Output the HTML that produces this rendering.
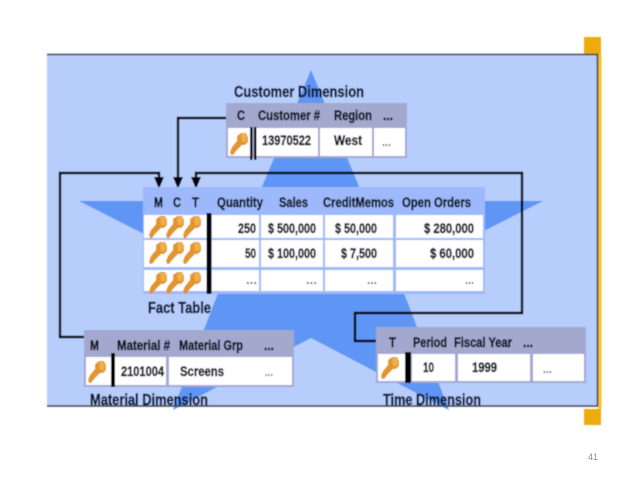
<!DOCTYPE html>
<html><head><meta charset="utf-8"><style>
html,body{margin:0;padding:0;background:#fff;width:638px;height:478px;overflow:hidden}
svg{display:block}
text{font-family:"Liberation Sans",sans-serif;font-weight:bold;font-size:13.5px;fill:#0e1420;stroke:#0e1420;stroke-width:.45px}
.l{font-size:15.5px;fill:#0c1a38;stroke:#0c1a38}
.d{fill:#555;stroke:none;font-size:12px}
</style></head><body>
<svg width="638" height="478" viewBox="0 0 638 478" xmlns="http://www.w3.org/2000/svg">
<defs>
<g id="k"><path d="M0 19 L2 14 L7 8 L7 3 L11 0 L16 0 L18 4 L18 9 L15 12 L12 12 L7 17 L3 22 L1 22Z" fill="#e2952a"/><path d="M11 1 L16 1 L17 5 L16 9 L12 9Z" fill="#eeb04c"/></g>
<filter id="b" x="-2%" y="-2%" width="104%" height="104%"><feGaussianBlur stdDeviation="0.4"/></filter>
</defs>
<g filter="url(#b)">
<rect x="584" y="37" width="17" height="17" fill="#edab09"/>
<rect x="598" y="54" width="3.500" height="355" fill="#f6c22e"/>
<rect x="584" y="409" width="17" height="16" fill="#edab09"/>
<rect x="47" y="54" width="551" height="352" fill="#b7cdfb"/>
<path d="M311 70 L365 201 L543 201 L397 275 L449 410 L311 338 L173 410 L225 275 L79 201 L256 201Z" fill="#5f95f5"/>
<path d="M47 54.500H597.500V406H47" fill="none" stroke="#3a3f4c" stroke-width="1.600"/>
<g fill="none" stroke="#05060c" stroke-width="2.400">
<path d="M226 118H178V180"/>
<path d="M159 180V173H60V337H84"/>
<path d="M196 180V173H522V313H355V341H376"/>
</g>
<g fill="#05060c"><path d="M154 177H164L159 189Z"/><path d="M173 177H183L178 189Z"/><path d="M191 177H201L196 189Z"/></g>

<rect x="226" y="103" width="181" height="55" fill="#a3a8cf"/>
<g fill="#fff"><rect x="228" y="128" width="22" height="28"/><rect x="256" y="128" width="62" height="28"/><rect x="320" y="128" width="52" height="28"/><rect x="374" y="128" width="31" height="28"/></g>
<rect x="250" y="127" width="2.500" height="33" fill="#000"/><rect x="254" y="127" width="2.500" height="33" fill="#000"/>
<use href="#k" x="230" y="133"/>

<rect x="143" y="187" width="342" height="107" fill="#9db9fb"/>
<g fill="#fff">
<rect x="144" y="215" width="63" height="23"/><rect x="212" y="215" width="47" height="23"/><rect x="261" y="215" width="62" height="23"/><rect x="325" y="215" width="68" height="23"/><rect x="396" y="215" width="87" height="23"/>
<rect x="144" y="240" width="63" height="27"/><rect x="212" y="240" width="47" height="27"/><rect x="261" y="240" width="62" height="27"/><rect x="325" y="240" width="68" height="27"/><rect x="396" y="240" width="87" height="27"/>
<rect x="144" y="270" width="63" height="21"/><rect x="212" y="270" width="47" height="21"/><rect x="261" y="270" width="62" height="21"/><rect x="325" y="270" width="68" height="21"/><rect x="396" y="270" width="87" height="21"/>
</g>
<rect x="206.500" y="213" width="5" height="81" fill="#000"/>
<use href="#k" x="149" y="216"/><use href="#k" x="166" y="216"/><use href="#k" x="183" y="216"/>
<use href="#k" x="149" y="242"/><use href="#k" x="166" y="242"/><use href="#k" x="183" y="242"/>
<use href="#k" x="149" y="272"/><use href="#k" x="166" y="272"/><use href="#k" x="183" y="272"/>

<rect x="84" y="330" width="210" height="57" fill="#a3a8cf"/>
<g fill="#fff"><rect x="86" y="357" width="25" height="28"/><rect x="115" y="357" width="51" height="28"/><rect x="169" y="357" width="123" height="28"/></g>
<rect x="111" y="353" width="4" height="34" fill="#000"/>
<use href="#k" x="88" y="361"/>

<rect x="376" y="327" width="210" height="56" fill="#a3a8cf"/>
<g fill="#fff"><rect x="378" y="354" width="27" height="27"/><rect x="412" y="354" width="43" height="27"/><rect x="458" y="354" width="72" height="27"/><rect x="533" y="354" width="51" height="27"/></g>
<rect x="405" y="352" width="6" height="31" fill="#000"/>
<use href="#k" x="381" y="357"/>

<text class="l" x="234" y="97" textLength="130" lengthAdjust="spacingAndGlyphs">Customer Dimension</text>
<text x="237" y="120" textLength="8" lengthAdjust="spacingAndGlyphs">C</text>
<text x="258" y="120" textLength="62" lengthAdjust="spacingAndGlyphs">Customer #</text>
<text x="334" y="120" textLength="38" lengthAdjust="spacingAndGlyphs">Region</text>
<text x="383" y="120" textLength="10" lengthAdjust="spacingAndGlyphs">...</text>
<text x="262" y="145" textLength="49" lengthAdjust="spacingAndGlyphs">13970522</text>
<text x="334" y="145" textLength="28" lengthAdjust="spacingAndGlyphs">West</text>
<text class="d" x="382" y="146" textLength="9" lengthAdjust="spacingAndGlyphs">...</text>

<text x="154" y="207" textLength="9" lengthAdjust="spacingAndGlyphs">M</text>
<text x="173" y="207" textLength="8" lengthAdjust="spacingAndGlyphs">C</text>
<text x="192" y="207" textLength="7" lengthAdjust="spacingAndGlyphs">T</text>
<text x="217" y="207" textLength="46" lengthAdjust="spacingAndGlyphs">Quantity</text>
<text x="279" y="207" textLength="29" lengthAdjust="spacingAndGlyphs">Sales</text>
<text x="323" y="207" textLength="71" lengthAdjust="spacingAndGlyphs">CreditMemos</text>
<text x="402" y="207" textLength="69" lengthAdjust="spacingAndGlyphs">Open Orders</text>

<text x="238" y="233" textLength="18" lengthAdjust="spacingAndGlyphs">250</text>
<text x="268" y="233" textLength="48" lengthAdjust="spacingAndGlyphs">$ 500,000</text>
<text x="335" y="233" textLength="42" lengthAdjust="spacingAndGlyphs">$ 50,000</text>
<text x="424" y="233" textLength="50" lengthAdjust="spacingAndGlyphs">$ 280,000</text>
<text x="245" y="258" textLength="11" lengthAdjust="spacingAndGlyphs">50</text>
<text x="268" y="258" textLength="48" lengthAdjust="spacingAndGlyphs">$ 100,000</text>
<text x="341" y="258" textLength="36" lengthAdjust="spacingAndGlyphs">$ 7,500</text>
<text x="430" y="258" textLength="44" lengthAdjust="spacingAndGlyphs">$ 60,000</text>
<text class="d" x="246" y="284" textLength="11" lengthAdjust="spacingAndGlyphs">...</text>
<text class="d" x="306" y="284" textLength="11" lengthAdjust="spacingAndGlyphs">...</text>
<text class="d" x="367" y="284" textLength="10" lengthAdjust="spacingAndGlyphs">...</text>
<text class="d" x="465" y="284" textLength="9" lengthAdjust="spacingAndGlyphs">...</text>
<text class="l" x="148" y="313" textLength="63" lengthAdjust="spacingAndGlyphs">Fact Table</text>

<text x="90" y="350" textLength="9" lengthAdjust="spacingAndGlyphs">M</text>
<text x="117" y="350" textLength="53" lengthAdjust="spacingAndGlyphs">Material #</text>
<text x="179" y="350" textLength="64" lengthAdjust="spacingAndGlyphs">Material Grp</text>
<text x="264" y="350" textLength="10" lengthAdjust="spacingAndGlyphs">...</text>
<text x="121" y="376" textLength="43" lengthAdjust="spacingAndGlyphs">2101004</text>
<text x="180" y="376" textLength="44" lengthAdjust="spacingAndGlyphs">Screens</text>
<text class="d" x="265" y="376" textLength="8" lengthAdjust="spacingAndGlyphs">...</text>
<text class="l" x="90" y="405" textLength="118" lengthAdjust="spacingAndGlyphs">Material Dimension</text>

<text x="389" y="347" textLength="7" lengthAdjust="spacingAndGlyphs">T</text>
<text x="413" y="347" textLength="34" lengthAdjust="spacingAndGlyphs">Period</text>
<text x="454" y="347" textLength="58" lengthAdjust="spacingAndGlyphs">Fiscal Year</text>
<text x="523" y="347" textLength="10" lengthAdjust="spacingAndGlyphs">...</text>
<text x="423" y="372" textLength="11" lengthAdjust="spacingAndGlyphs">10</text>
<text x="472" y="372" textLength="25" lengthAdjust="spacingAndGlyphs">1999</text>
<text class="d" x="543" y="373" textLength="9" lengthAdjust="spacingAndGlyphs">...</text>
<text class="l" x="383" y="405" textLength="98" lengthAdjust="spacingAndGlyphs">Time Dimension</text>
</g>
<text x="588" y="460" style="font-size:9px;font-weight:normal;fill:#8a8a8a;stroke:none">41</text>
</svg>
</body></html>
